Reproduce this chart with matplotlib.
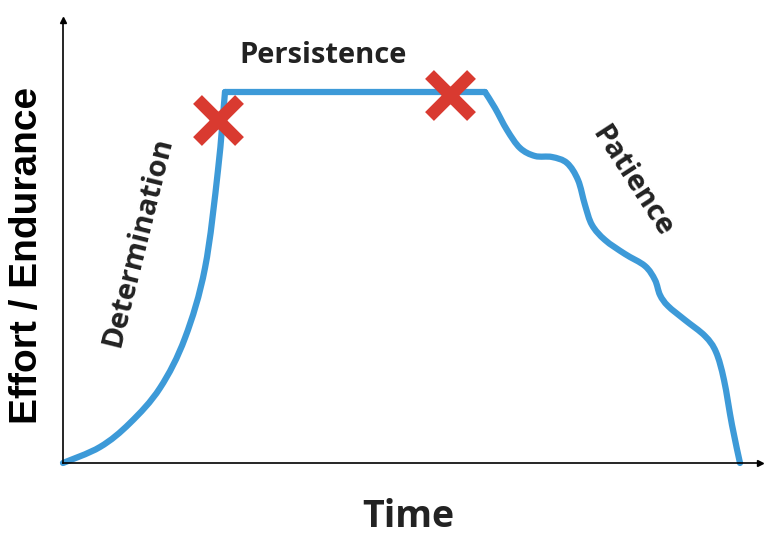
import matplotlib
matplotlib.use("Agg")
import matplotlib.pyplot as plt
from matplotlib.path import Path
from matplotlib.patches import PathPatch

# curve points (pixel-space offsets from origin), three segments: rise, plateau, decline
rise_px = [63,100,130,160,185,205,218,225]
rise_py = [463,447,423,388,338,268,170,92]
plat_px = [225,485]
plat_py = [92,92]
fall_px = [485,495,507,520,535,552,567,578,585,592,605,625,645,655,660,668,685,705,716,724,732,740]
fall_py = [92,108,130,148,156,157,163,180,205,225,240,254,266,280,295,306,320,336,352,380,425,463]
fail_x = [218-63, 450-63]
fail_y = [463-120, 463-95]

def to_xy(px, py):
    return [v-63 for v in px], [463-v for v in py]

def smooth_path(xs, ys):
    pts = list(zip(xs, ys))
    verts = [pts[0]]; codes = [Path.MOVETO]
    n = len(pts)
    for i in range(n-1):
        p0 = pts[i-1] if i > 0 else pts[i]
        p1 = pts[i]; p2 = pts[i+1]
        p3 = pts[i+2] if i+2 < n else pts[i+1]
        c1 = (p1[0]+(p2[0]-p0[0])/6, p1[1]+(p2[1]-p0[1])/6)
        c2 = (p2[0]-(p3[0]-p1[0])/6, p2[1]-(p3[1]-p1[1])/6)
        verts += [c1, c2, p2]; codes += [Path.CURVE4]*3
    return Path(verts, codes)

fig = plt.figure(figsize=(7.68,5.43), dpi=100)
ax = fig.add_axes([63/768, 80/543, 697/768, 443/543])
ax.set_xlim(0,697); ax.set_ylim(0,443)
for s in ['top','right']:
    ax.spines[s].set_visible(False)
for s in ['left','bottom']:
    ax.spines[s].set_linewidth(1.2)
ax.set_xticks([]); ax.set_yticks([])
ax.plot(1, 0, ">k", transform=ax.transAxes, clip_on=False, markersize=5)
ax.plot(0, 1, "^k", transform=ax.transAxes, clip_on=False, markersize=5)
for px, py in [(rise_px, rise_py), (plat_px, plat_py), (fall_px, fall_py)]:
    xs, ys = to_xy(px, py)
    ax.add_patch(PathPatch(smooth_path(xs, ys), fill=False, edgecolor='#3d9ad8', lw=4.5,
                           joinstyle='round', capstyle='round', clip_on=False))
ax.plot(fail_x, fail_y, 'x', color='#d93a30', markersize=30, mew=9, ls='none')
ff = 'Open Sans'
ax.text(323-63, 463-55, 'Persistence', fontsize=21, family=ff, weight='bold', ha='center', va='center', color='#222')
ax.text(138-63, 463-242, 'Determination', fontsize=21, family=ff, weight='bold', ha='center', va='center', rotation=76, color='#222')
ax.text(632-63, 463-182, 'Patience', fontsize=21, family=ff, weight='bold', ha='center', va='center', rotation=-57, color='#222')
fig.text(408/768, 1-517/543, 'Time', fontsize=27, family=ff, weight='bold', ha='center', va='center', color='#222')
fig.text(27/768, 1-255/543, 'Effort / Endurance', fontsize=28, family='Liberation Sans', weight='bold', ha='center', va='center', rotation=90)
fig.savefig('out.png', dpi=100)
